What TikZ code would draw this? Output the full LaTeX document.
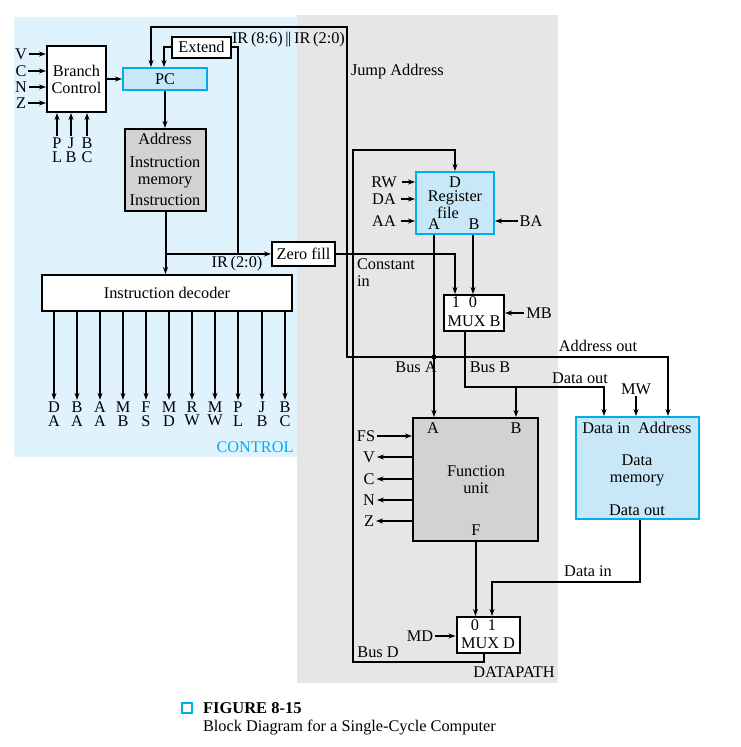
\documentclass[tikz,border=0pt]{standalone}
\usepackage{fontspec}
\setmainfont{Liberation Serif}
\usetikzlibrary{arrows.meta}
\definecolor{ctlbg}{HTML}{E0F3FC}
\definecolor{dpbg}{HTML}{E6E6E6}
\definecolor{boxblue}{HTML}{C8E8F8}
\definecolor{edgeblue}{HTML}{00AEEF}
\definecolor{boxgray}{HTML}{D1D2D4}
\begin{document}
\begin{tikzpicture}[x=1pt, y=-1pt, line width=2pt,
    font=\fontsize{16.3}{15}\selectfont,
    arr/.style={-{Stealth[length=7pt,width=5pt]}},
    thin line/.style={line width=1.2pt},
    blk/.style={draw, line width=2pt, fill=white, inner sep=1pt, align=center},
    bluebox/.style={blk, fill=boxblue, draw=edgeblue},
    graybox/.style={blk, fill=boxgray},
    lbl/.style={inner sep=1pt},
    two/.style={lbl, align=center, font=\fontsize{16.3}{13.5}\selectfont},
    wide/.style={font=\fontsize{16.3}{17}\selectfont}]

  \useasboundingbox (0,0) rectangle (740,747);
  \fill[ctlbg] (14,17) rectangle (297,457);
  \fill[dpbg] (297,15) rectangle (558,683);

  % control unit
  \node[blk, wide, minimum width=59pt, minimum height=66pt] (bc) at (76.5,79) {Branch\\Control};
  \node[bluebox, minimum width=84pt, minimum height=22pt] (pc) at (165,79) {PC};
  \node[blk, minimum width=59pt, minimum height=21pt] (ext) at (201.5,47) {Extend};
  \node[graybox, minimum width=81pt, minimum height=82pt] (imem) at (165.5,170) {};
  \node[lbl] at (165,139) {Address};
  \node[two, wide] at (165,172) {Instruction\\memory};
  \node[lbl] at (165,200) {Instruction};
  \node[blk, minimum width=63pt, minimum height=24pt] (zf) at (303.5,254) {Zero fill};
  \node[blk, minimum width=250pt, minimum height=36pt] (dec) at (167,293) {Instruction decoder};

  \foreach \s/\y in {V/54,C/71,N/87,Z/103}
  {
    \node[lbl] (in\s) at (21,\y) {\s};
    \draw[arr, thin line] (in\s.east) -- (in\s.east -| bc.west);
  }
  \foreach \x/\a/\b in {57/P/L, 71/J/B, 87/B/C}
  {
    \node[two] (bin\a\b) at (\x,150) {\a\\\b};
    \draw[arr, thin line] (bin\a\b.north) -- (bin\a\b.north |- bc.south);
  }
  \foreach \x/\a/\b [count=\i] in {54/D/A, 77/B/A, 100/A/A, 123/M/B, 146/F/S,
      169/M/D, 192/R/W, 215/M/W, 238/P/L, 262/J/B, 285/B/C}
  {
    \node[two] (o\i) at (\x,414) {\a\\\b};
    \draw[arr, thin line] (o\i.north |- dec.south) -- (o\i.north);
  }

  \draw[arr] (bc.east) -- (pc.west);
  \draw[arr] (ext.west) -| ([xshift=-1pt]pc.north);
  \draw[arr] (pc.south) -- (pc.south |- imem.north);
  \coordinate (irj) at (238,254);
  \draw[arr] (imem.south) -- (imem.south |- dec.north);
  \draw[arr] (imem.south |- zf.west) -- (zf.west);
  \draw (ext.east) -| (irj);

  \node[lbl, anchor=south west] at (230,49) {IR\,(8:6)\,\textbar\kern-0.5pt\textbar\,IR\,(2:0)};
  \node[lbl, anchor=west] at (349,72) {Jump Address};
  \node[lbl] at (237,264) {IR\,(2:0)};
  \node[lbl, text=edgeblue] at (255,447) {CONTROL};

  % datapath
  \node[bluebox, minimum width=78pt, minimum height=62pt] (rf) at (455,203) {};
  \node[lbl] at (455,182) {D};
  \node[lbl] at (455,198) {Register};
  \node[lbl] at (448,213) {file};
  \node[lbl] at (434,224) {A};
  \node[lbl] at (474,224) {B};
  \node[blk, minimum width=60pt, minimum height=36pt] (muxb) at (474,313) {};
  \node[lbl] at (456,302) {1};
  \node[lbl] at (473,302) {0};
  \node[lbl] at (474,321) {MUX B};
  \node[graybox, minimum width=125pt, minimum height=123pt] (fu) at (475.5,479.5) {};
  \node[lbl] at (433,428) {A};
  \node[lbl] at (516,428) {B};
  \node[two, wide] at (476,480) {Function\\unit};
  \node[lbl] at (476,530) {F};
  \node[bluebox, minimum width=123pt, minimum height=102pt] (dm) at (637.5,468) {};
  \node[lbl] at (637,428) {Data in\enspace Address};
  \node[two, wide] at (637,470) {Data\\memory};
  \node[lbl] at (637,510) {Data out};
  \node[blk, minimum width=63pt, minimum height=36pt] (muxd) at (488,635) {};
  \node[lbl] at (475,625) {0};
  \node[lbl] at (492,625) {1};
  \node[lbl] at (488,643) {MUX D};

  \foreach \s/\y in {RW/182,DA/199,AA/221}
  {
    \node[lbl] (\s) at (384,\y) {\s};
    \draw[arr] ([xshift=3pt]\s.east) -- (\s.east -| rf.west);
  }
  \node[lbl] (BA) at (531,221) {BA};
  \draw[arr] (BA.west) -- (BA.west -| rf.east);
  \node[lbl] (MB) at (539,313) {MB};
  \draw[arr] (MB.west) -- (MB.west -| muxb.east);
  \node[lbl] (FS) at (366,436) {FS};
  \draw[arr] (FS.east) -- (FS.east -| fu.west);
  \foreach \s/\y in {V/457,C/479,N/500,Z/521}
  {
    \node[lbl] (f\s) at (369,\y) {\s};
    \draw[arr, thin line] (f\s.east -| fu.west) -- (f\s.east);
  }
  \node[lbl] (MW) at (636,389) {MW};
  \draw[arr, thin line] (MW.south) -- (MW.south |- dm.north);
  \node[lbl] (MD) at (420,636) {MD};
  \draw[arr] (MD.east) -- (MD.east -| muxd.west);

  \coordinate (busa) at (434,357);
  \coordinate (jl) at (347,357);
  \coordinate (jt) at (347,27);
  \coordinate (bbj) at (516,387);
  \coordinate (dmj) at (492,582);
  \coordinate (bd) at (353,662);
  \coordinate (bdt) at (353,150);

  \draw[arr] (busa) -- (jl) -- (jt) -| ([xshift=-14pt]pc.north);
  \draw[arr] (jl) -| ([xshift=30.5pt]dm.north);
  \fill (busa) circle (2.6pt);
  \draw[arr] ([xshift=-21pt]rf.south) -- ([xshift=-21pt]rf.south |- fu.north);
  \draw[arr] ([xshift=18pt]rf.south) -- ([xshift=18pt]rf.south |- muxb.north);
  \draw[arr, thin line] (zf.east) -| ([xshift=-19pt]muxb.north);
  \draw[arr] ([xshift=-9pt]muxb.south) |- (bbj) -| ([xshift=-33.5pt]dm.north);
  \draw[arr] (bbj) -- (bbj |- fu.north);
  \draw[arr] (fu.south) -- (fu.south |- muxd.north);
  \draw[arr] ([xshift=2.5pt]dm.south) |- (dmj) -- (dmj |- muxd.north);
  \draw[arr, thin line] ([xshift=-4pt]muxd.south) |- (bd) -- (bdt) -| (rf.north);

  \node[two, wide, align=left, anchor=north west] at (355,257) {Constant\\in};
  \node[lbl] at (416,367) {Bus A};
  \node[lbl] at (490,367) {Bus B};
  \node[lbl] at (598,346) {Address out};
  \node[lbl] at (580,378) {Data out};
  \node[lbl] at (588,571) {Data in};
  \node[lbl] at (378,652) {Bus D};
  \node[lbl] at (514,672) {DATAPATH};

  % caption
  \draw[edgeblue, line width=1.4pt] (182,703) rectangle (192,713);
  \node[lbl, anchor=west, font=\fontsize{16.5}{16}\selectfont\bfseries] at (201,708) {FIGURE 8-15};
  \node[lbl, anchor=west] at (201,728) {Block Diagram for a Single-Cycle Computer};
\end{tikzpicture}
\end{document}
